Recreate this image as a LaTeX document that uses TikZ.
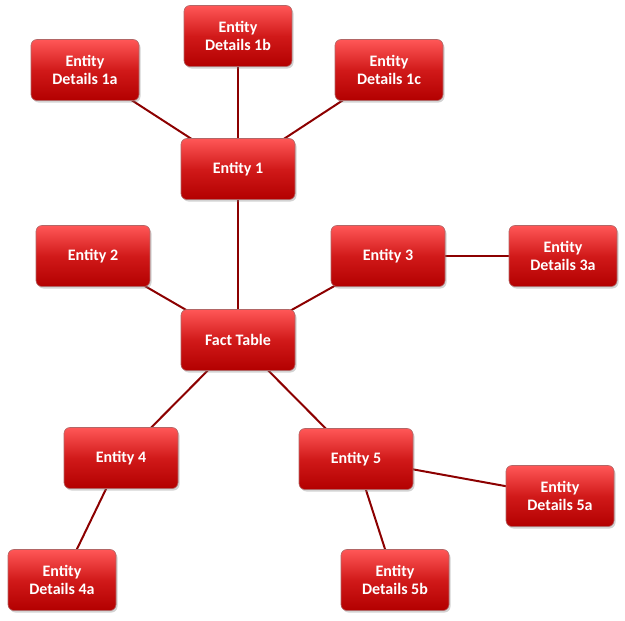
\documentclass[tikz,border=0pt]{standalone}
\usepackage{fontspec}
\setmainfont{Carlito}
\usetikzlibrary{shadows}
\begin{document}
\begin{tikzpicture}[x=1pt,y=-1pt,
  ebox/.style={draw=red!50!black!60, line width=0.6pt, rounded corners=6pt,
    top color=red!60!white!85!red, bottom color=red!70!black,
    middle color=red!80!black!90,
    drop shadow={shadow xshift=1.5pt,shadow yshift=-2pt,opacity=0.35},
    font=\fontsize{16}{18}\selectfont\bfseries, text=white, align=center,
    minimum width=#1, minimum height=61pt, inner sep=2pt},
  ebox/.default=108pt,
  conn/.style={draw=red!55!black, line width=2pt}]
\useasboundingbox (0,0) rectangle (625,621);
\draw[conn] (238,36) -- (238,169);
\draw[conn] (85,70) -- (238,169);
\draw[conn] (389,70) -- (238,169);
\draw[conn] (238,169) -- (238,340);
\draw[conn] (93,256) -- (238,340);
\draw[conn] (388,256) -- (238,340);
\draw[conn] (388,256) -- (563,256);
\draw[conn] (238,340) -- (121,458);
\draw[conn] (238,340) -- (356,459);
\draw[conn] (121,458) -- (62,580);
\draw[conn] (356,459) -- (560,496);
\draw[conn] (356,459) -- (395,580);
\node[ebox] (d1b) at (238,36) {Entity\\Details 1b};
\node[ebox] (d1a) at (85,70) {Entity\\Details 1a};
\node[ebox] (d1c) at (389,70) {Entity\\Details 1c};
\node[ebox=114pt] (e1) at (238,169) {Entity 1};
\node[ebox=114pt] (e2) at (93,256) {Entity 2};
\node[ebox=114pt] (e3) at (388,256) {Entity 3};
\node[ebox] (d3a) at (563,256) {Entity\\Details 3a};
\node[ebox=114pt] (ft) at (238,340) {Fact Table};
\node[ebox=114pt] (e4) at (121,458) {Entity 4};
\node[ebox=114pt] (e5) at (356,459) {Entity 5};
\node[ebox] (d5a) at (560,496) {Entity\\Details 5a};
\node[ebox] (d4a) at (62,580) {Entity\\Details 4a};
\node[ebox] (d5b) at (395,580) {Entity\\Details 5b};
\end{tikzpicture}
\end{document}
